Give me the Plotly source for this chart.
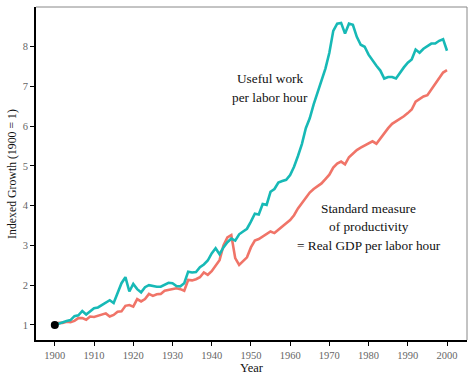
import plotly.graph_objects as go

years = list(range(1900, 2001))

useful_work = [
    1.00, 1.04, 1.06, 1.10, 1.12, 1.22, 1.24, 1.35, 1.26, 1.34,
    1.42, 1.44, 1.50, 1.58, 1.62, 1.55, 1.80, 2.05, 2.20, 1.84,
    2.03, 1.90, 1.82, 1.95, 2.00, 1.98, 1.96, 1.96, 2.02, 2.06,
    2.05, 1.98, 1.97, 2.05, 2.34, 2.32, 2.33, 2.45, 2.52, 2.62,
    2.80, 2.93, 2.78, 2.95, 3.08, 3.17, 3.12, 3.28, 3.35, 3.42,
    3.60, 3.80, 3.78, 4.04, 4.02, 4.35, 4.42, 4.58, 4.62, 4.65,
    4.77, 4.98, 5.25, 5.55, 5.95, 6.20, 6.55, 6.85, 7.20, 7.45,
    7.85, 8.40, 8.58, 8.60, 8.33, 8.58, 8.55, 8.25, 8.05, 8.00,
    7.80, 7.65, 7.52, 7.40, 7.20, 7.24, 7.24, 7.20, 7.35, 7.48,
    7.60, 7.68, 7.93, 7.85, 7.95, 8.02, 8.08, 8.08, 8.15, 8.19,
    7.90,
]

real_gdp = [
    1.00, 1.05, 1.05, 1.08, 1.07, 1.10, 1.17, 1.17, 1.13, 1.21,
    1.20, 1.23, 1.26, 1.29, 1.21, 1.25, 1.33, 1.34, 1.48, 1.50,
    1.46, 1.65, 1.59, 1.65, 1.78, 1.73, 1.77, 1.78, 1.86, 1.88,
    1.90, 1.92, 1.90, 1.86, 2.13, 2.12, 2.15, 2.20, 2.32, 2.26,
    2.35, 2.48, 2.63, 3.00, 3.20, 3.26, 2.68, 2.51, 2.60, 2.70,
    2.95, 3.12, 3.16, 3.22, 3.28, 3.35, 3.31, 3.40, 3.48, 3.56,
    3.64, 3.76, 3.93, 4.07, 4.20, 4.33, 4.42, 4.50, 4.56, 4.67,
    4.78, 4.96, 5.06, 5.11, 5.04, 5.22, 5.32, 5.40, 5.46, 5.52,
    5.58, 5.62, 5.56, 5.70, 5.82, 5.95, 6.06, 6.12, 6.20, 6.25,
    6.33, 6.42, 6.62, 6.68, 6.75, 6.78, 6.92, 7.08, 7.20, 7.35,
    7.41,
]

x_ticks = list(range(1900, 2001, 10))
y_ticks = [1, 2, 3, 4, 5, 6, 7, 8]

uw_label = ["Useful work", "per labor hour"]
gdp_label = ["Standard measure", "of productivity", "= Real GDP per labor hour"]

FONT = "Liberation Serif, Times New Roman, serif"

fig = go.Figure()
fig.add_trace(go.Scatter(x=years, y=real_gdp, mode="lines",
                         line=dict(color="#F07468", width=2.6), showlegend=False))
fig.add_trace(go.Scatter(x=years, y=useful_work, mode="lines",
                         line=dict(color="#17B9B6", width=2.6), showlegend=False))
fig.add_trace(go.Scatter(x=[years[0]], y=[useful_work[0]], mode="markers",
                         marker=dict(color="black", size=8), showlegend=False))

# text labels, one annotation per line (line spacing ~19px)
for i, t in enumerate(uw_label):
    fig.add_annotation(x=1954.8, y=7.21 - i * 0.478, xref="x", yref="y",
                       text=t, showarrow=False, yanchor="middle",
                       font=dict(family=FONT, size=13.3, color="#111111"))
for i, t in enumerate(gdp_label):
    fig.add_annotation(x=1980.1, y=3.94 - i * 0.465, xref="x", yref="y",
                       text=t, showarrow=False, yanchor="middle",
                       font=dict(family=FONT, size=13.3, color="#111111"))

# axis titles
fig.add_annotation(x=0.5, y=-0.084, xref="paper", yref="paper", yanchor="middle",
                   text="Year", showarrow=False,
                   font=dict(family=FONT, size=12.5, color="#111111"))
fig.add_annotation(x=-0.057, y=0.5, xref="paper", yref="paper", xanchor="center",
                   text="Indexed Growth (1900 = 1)", showarrow=False, textangle=-90,
                   font=dict(family=FONT, size=11.8, color="#111111"))

fig.update_layout(
    width=474, height=378,
    margin=dict(l=36, r=7, t=7, b=38),
    plot_bgcolor="white", paper_bgcolor="white",
    font=dict(family=FONT, color="#111111"),
    xaxis=dict(range=[1895.2, 2005.1], tickvals=x_ticks, showgrid=False, zeroline=False,
               showline=True, linecolor="black", linewidth=2, mirror=False,
               ticks="outside", ticklen=4, tickcolor="black", automargin=False,
               tickfont=dict(family=FONT, size=10.5, color="#666666")),
    yaxis=dict(range=[0.62, 9.0], tickvals=y_ticks, showgrid=False, zeroline=False,
               showline=True, linecolor="black", linewidth=2, mirror=False,
               ticks="outside", ticklen=4, tickcolor="black", automargin=False,
               tickfont=dict(family=FONT, size=10.5, color="#666666")),
    shapes=[
        dict(type="line", xref="paper", yref="paper", x0=0, x1=1, y0=1, y1=1,
             line=dict(color="#888888", width=1)),
        dict(type="line", xref="paper", yref="paper", x0=1, x1=1, y0=0, y1=1,
             line=dict(color="#888888", width=1)),
    ],
)

# remove the default page margin so the figure fills the window exactly
fig.write_html("out.html", config={"displayModeBar": False},
               post_script="document.body.style.margin='0px';")
